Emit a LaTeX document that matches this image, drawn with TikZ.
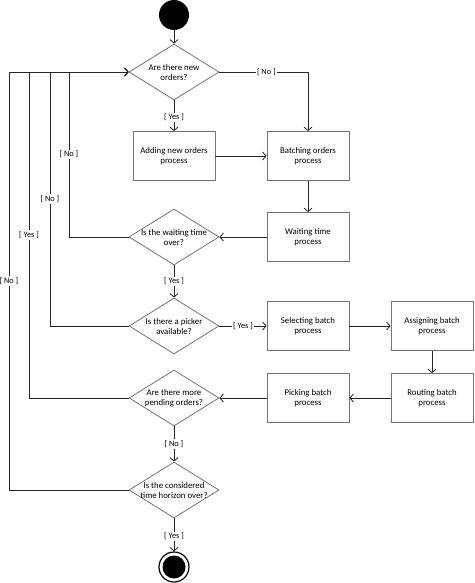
\documentclass[tikz,border=0pt]{standalone}
\usepackage{fontspec}
\setmainfont{Carlito}
\usetikzlibrary{shapes.geometric,arrows.meta}
\begin{document}
\begin{tikzpicture}[x=1pt,y=-1pt,
  every node/.style={font=\fontsize{8.8}{10}\selectfont},
  box/.style={draw=black!55, line width=0.8pt, minimum width=82pt, minimum height=49pt, align=center, inner sep=0pt},
  dec/.style={draw=black!55, line width=0.8pt, shape=diamond, minimum width=90pt, minimum height=56pt, inner sep=0pt},
  dtext/.style={align=center, inner sep=0pt},
  conn/.style={draw=black!85, line width=0.8pt},
  arr/.style={conn, -{Straight Barb[length=3.5pt,width=8pt,line width=0.8pt]}},
  guard/.style={fill=white, inner sep=1pt, font=\fontsize{8.3}{9}\selectfont}
]
\clip (0,0) rectangle (474,583);
% start / end
\node[circle, fill=black, minimum size=30pt, inner sep=0pt] (start) at (174,15) {};
\node[circle, draw=black, line width=1.2pt, minimum size=30pt, inner sep=0pt] (endo) at (174,567) {};
\node[circle, fill=black, minimum size=23pt, inner sep=0pt] (endi) at (174,567) {};
% decisions
\node[dec] (d1) at (174,72) {};
\node[dtext] at (d1) {Are there new\\orders?};
\node[dec] (d2) at (174,237) {};
\node[dtext] at (d2) {Is the waiting time\\over?};
\node[dec] (d3) at (174,326) {};
\node[dtext] at (d3) {Is there a picker\\available?};
\node[dec] (d4) at (174,398) {};
\node[dtext] at (d4) {Are there more\\pending orders?};
\node[dec] (d5) at (174,490) {};
\node[dtext] at (d5) {Is the considered\\time horizon over?};
% boxes
\node[box] (add) at (174,156) {Adding new orders\\process};
\node[box] (batch) at (308,156) {Batching orders\\process};
\node[box] (wait) at (308,237) {Waiting time\\process};
\node[box] (sel) at (308,326) {Selecting batch\\process};
\node[box] (assign) at (432,326) {Assigning batch\\process};
\node[box] (route) at (432,398) {Routing batch\\process};
\node[box] (pick) at (308,398) {Picking batch\\process};
% coordinates
\coordinate (c1) at (308,72);
\coordinate (l2a) at (69,237); \coordinate (l2b) at (69,72);
\coordinate (l3a) at (50,326); \coordinate (l3b) at (50,72);
\coordinate (l4a) at (29,398); \coordinate (l4b) at (29,72);
\coordinate (l5a) at (9,490);  \coordinate (l5b) at (9,72);
% connectors
\draw[arr] (start) -- (d1.north);
\draw[arr] (d1.south) -- node[guard, pos=0.55] {[ Yes ]} (add.north);
\draw[arr] (d1.east) -- node[guard, pos=0.53] {[ No ]} (c1) -- (batch.north);
\draw[arr] (add) -- (batch);
\draw[arr] (batch) -- (wait);
\draw[arr] (wait) -- (d2.east);
\draw[arr] (d2.west) -- (l2a) -- node[guard, pos=0.5] {[ No ]} (l2b) -- (d1.west);
\draw[arr] (d2.south) -- node[guard, pos=0.5] {[ Yes ]} (d3.north);
\draw[arr] (d3.west) -- (l3a) -- node[guard, pos=0.5] {[ No ]} (l3b) -- (d1.west);
\draw[arr] (d3.east) -- node[guard, pos=0.5] {[ Yes ]} (sel.west);
\draw[arr] (sel) -- (assign);
\draw[arr] (assign) -- (route);
\draw[arr] (route) -- (pick);
\draw[arr] (pick) -- (d4.east);
\draw[arr] (d4.west) -- (l4a) -- node[guard, pos=0.50] {[ Yes ]} (l4b) -- (d1.west);
\draw[arr] (d4.south) -- node[guard, pos=0.5] {[ No ]} (d5.north);
\draw[arr] (d5.west) -- (l5a) -- node[guard, pos=0.5] {[ No ]} (l5b) -- (d1.west);
\draw[arr] (d5.south) -- node[guard, pos=0.55] {[ Yes ]} (endo.north);
\end{tikzpicture}
\end{document}
